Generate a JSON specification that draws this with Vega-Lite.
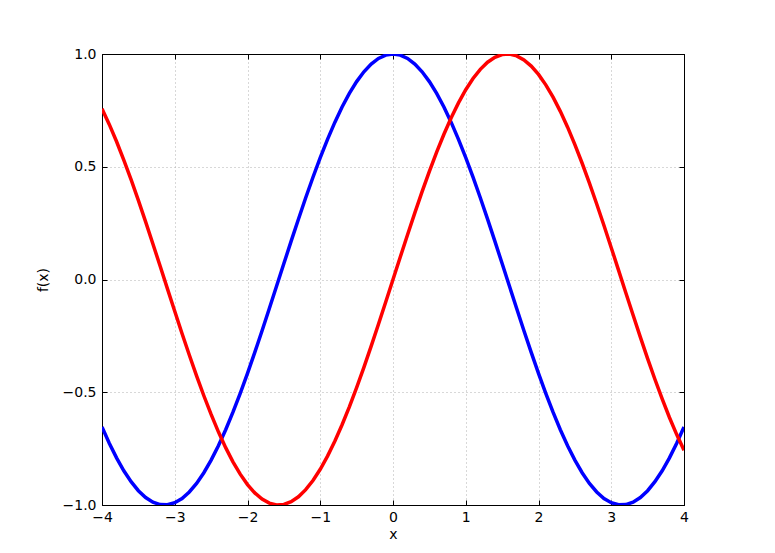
{
  "$schema": "https://vega.github.io/schema/vega-lite/v6.json",
  "width": 582,
  "height": 451,
  "autosize": "none",
  "padding": {"left": 102, "top": 54, "right": 91, "bottom": 48},
  "background": "white",
  "config": {
    "view": {"stroke": "black", "strokeWidth": 1},
    "axis": {
      "labelFont": "DejaVu Sans",
      "titleFont": "DejaVu Sans",
      "labelFontSize": 14,
      "titleFontSize": 14,
      "titleFontWeight": "normal",
      "labelColor": "black",
      "titleColor": "black",
      "domainColor": "black",
      "tickColor": "black",
      "tickSize": -5,
      "gridColor": "#b0b0b0",
      "gridDash": [1, 3],
      "gridWidth": 1
    }
  },
  "data": {
    "values": [
      {"x": -4.0, "c": -0.6536, "s": 0.7568},
      {"x": -3.9, "c": -0.7259, "s": 0.6878},
      {"x": -3.8, "c": -0.7910, "s": 0.6119},
      {"x": -3.7, "c": -0.8481, "s": 0.5298},
      {"x": -3.6, "c": -0.8968, "s": 0.4425},
      {"x": -3.5, "c": -0.9365, "s": 0.3508},
      {"x": -3.4, "c": -0.9668, "s": 0.2555},
      {"x": -3.3, "c": -0.9875, "s": 0.1577},
      {"x": -3.2, "c": -0.9983, "s": 0.0584},
      {"x": -3.1, "c": -0.9991, "s": -0.0416},
      {"x": -3.0, "c": -0.9900, "s": -0.1411},
      {"x": -2.9, "c": -0.9710, "s": -0.2392},
      {"x": -2.8, "c": -0.9422, "s": -0.3350},
      {"x": -2.7, "c": -0.9041, "s": -0.4274},
      {"x": -2.6, "c": -0.8569, "s": -0.5155},
      {"x": -2.5, "c": -0.8011, "s": -0.5985},
      {"x": -2.4, "c": -0.7374, "s": -0.6755},
      {"x": -2.3, "c": -0.6663, "s": -0.7457},
      {"x": -2.2, "c": -0.5885, "s": -0.8085},
      {"x": -2.1, "c": -0.5048, "s": -0.8632},
      {"x": -2.0, "c": -0.4161, "s": -0.9093},
      {"x": -1.9, "c": -0.3233, "s": -0.9463},
      {"x": -1.8, "c": -0.2272, "s": -0.9738},
      {"x": -1.7, "c": -0.1288, "s": -0.9917},
      {"x": -1.6, "c": -0.0292, "s": -0.9996},
      {"x": -1.5, "c": 0.0707, "s": -0.9975},
      {"x": -1.4, "c": 0.1700, "s": -0.9854},
      {"x": -1.3, "c": 0.2675, "s": -0.9636},
      {"x": -1.2, "c": 0.3624, "s": -0.9320},
      {"x": -1.1, "c": 0.4536, "s": -0.8912},
      {"x": -1.0, "c": 0.5403, "s": -0.8415},
      {"x": -0.9, "c": 0.6216, "s": -0.7833},
      {"x": -0.8, "c": 0.6967, "s": -0.7174},
      {"x": -0.7, "c": 0.7648, "s": -0.6442},
      {"x": -0.6, "c": 0.8253, "s": -0.5646},
      {"x": -0.5, "c": 0.8776, "s": -0.4794},
      {"x": -0.4, "c": 0.9211, "s": -0.3894},
      {"x": -0.3, "c": 0.9553, "s": -0.2955},
      {"x": -0.2, "c": 0.9801, "s": -0.1987},
      {"x": -0.1, "c": 0.9950, "s": -0.0998},
      {"x": 0.0, "c": 1.0, "s": 0.0},
      {"x": 0.1, "c": 0.9950, "s": 0.0998},
      {"x": 0.2, "c": 0.9801, "s": 0.1987},
      {"x": 0.3, "c": 0.9553, "s": 0.2955},
      {"x": 0.4, "c": 0.9211, "s": 0.3894},
      {"x": 0.5, "c": 0.8776, "s": 0.4794},
      {"x": 0.6, "c": 0.8253, "s": 0.5646},
      {"x": 0.7, "c": 0.7648, "s": 0.6442},
      {"x": 0.8, "c": 0.6967, "s": 0.7174},
      {"x": 0.9, "c": 0.6216, "s": 0.7833},
      {"x": 1.0, "c": 0.5403, "s": 0.8415},
      {"x": 1.1, "c": 0.4536, "s": 0.8912},
      {"x": 1.2, "c": 0.3624, "s": 0.9320},
      {"x": 1.3, "c": 0.2675, "s": 0.9636},
      {"x": 1.4, "c": 0.1700, "s": 0.9854},
      {"x": 1.5, "c": 0.0707, "s": 0.9975},
      {"x": 1.6, "c": -0.0292, "s": 0.9996},
      {"x": 1.7, "c": -0.1288, "s": 0.9917},
      {"x": 1.8, "c": -0.2272, "s": 0.9738},
      {"x": 1.9, "c": -0.3233, "s": 0.9463},
      {"x": 2.0, "c": -0.4161, "s": 0.9093},
      {"x": 2.1, "c": -0.5048, "s": 0.8632},
      {"x": 2.2, "c": -0.5885, "s": 0.8085},
      {"x": 2.3, "c": -0.6663, "s": 0.7457},
      {"x": 2.4, "c": -0.7374, "s": 0.6755},
      {"x": 2.5, "c": -0.8011, "s": 0.5985},
      {"x": 2.6, "c": -0.8569, "s": 0.5155},
      {"x": 2.7, "c": -0.9041, "s": 0.4274},
      {"x": 2.8, "c": -0.9422, "s": 0.3350},
      {"x": 2.9, "c": -0.9710, "s": 0.2392},
      {"x": 3.0, "c": -0.9900, "s": 0.1411},
      {"x": 3.1, "c": -0.9991, "s": 0.0416},
      {"x": 3.2, "c": -0.9983, "s": -0.0584},
      {"x": 3.3, "c": -0.9875, "s": -0.1577},
      {"x": 3.4, "c": -0.9668, "s": -0.2555},
      {"x": 3.5, "c": -0.9365, "s": -0.3508},
      {"x": 3.6, "c": -0.8968, "s": -0.4425},
      {"x": 3.7, "c": -0.8481, "s": -0.5298},
      {"x": 3.8, "c": -0.7910, "s": -0.6119},
      {"x": 3.9, "c": -0.7259, "s": -0.6878},
      {"x": 4.0, "c": -0.6536, "s": -0.7568}
    ]
  },
  "layer": [
    {
      "mark": {"type": "line", "color": "#0000ff", "strokeWidth": 3.5, "clip": true},
      "encoding": {
        "x": {
          "field": "x", "type": "quantitative",
          "scale": {"domain": [-4, 4], "nice": false, "zero": false},
          "axis": {"orient": "bottom", "title": "x", "values": [-4, -3, -2, -1, 0, 1, 2, 3, 4], "format": "d", "grid": true, "labelPadding": 10, "titlePadding": 3, "labelFlush": false}
        },
        "y": {
          "field": "c", "type": "quantitative",
          "scale": {"domain": [-1, 1], "nice": false, "zero": false},
          "axis": {"orient": "left", "title": "f(x)", "values": [-1, -0.5, 0, 0.5, 1], "format": ".1f", "grid": true, "labelPadding": 11, "titlePadding": 12, "labelFlush": false}
        }
      }
    },
    {
      "mark": {"type": "line", "color": "#ff0000", "strokeWidth": 3.5, "clip": true},
      "encoding": {
        "x": {
          "field": "x", "type": "quantitative",
          "scale": {"domain": [-4, 4], "nice": false, "zero": false},
          "axis": {"orient": "top", "title": null, "values": [-4, -3, -2, -1, 0, 1, 2, 3, 4], "labels": false, "grid": false}
        },
        "y": {
          "field": "s", "type": "quantitative",
          "scale": {"domain": [-1, 1], "nice": false, "zero": false},
          "axis": {"orient": "right", "title": null, "values": [-1, -0.5, 0, 0.5, 1], "labels": false, "grid": false}
        }
      }
    }
  ],
  "resolve": {"axis": {"x": "independent", "y": "independent"}}
}
